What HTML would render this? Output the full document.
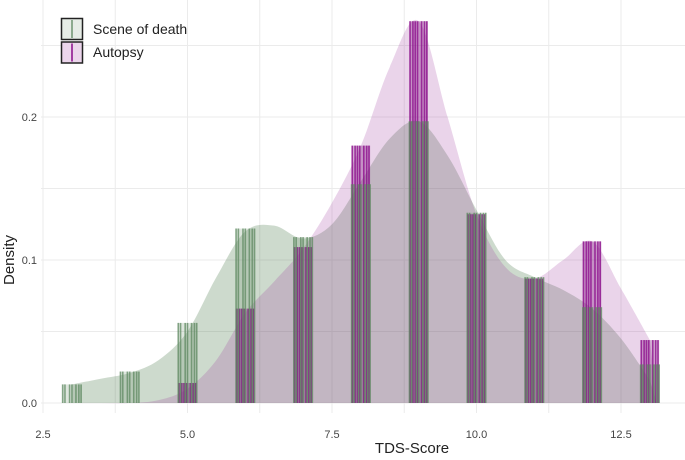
<!DOCTYPE html>
<html><head><meta charset="utf-8"><style>
body{margin:0;background:#fff}
text{font-family:"Liberation Sans",sans-serif}
</style></head><body>
<svg id="c" width="685" height="455" xmlns="http://www.w3.org/2000/svg">
<g id="grid"></g>
<g id="areas"></g>
<g id="bars"></g>
<g id="axes"></g>
<text x="412" y="453" font-size="15" text-anchor="middle" fill="#222">TDS-Score</text>
<text x="14" y="260" font-size="15" text-anchor="middle" fill="#222" transform="rotate(-90 14 260)">Density</text>
<g>
 <g>
  <rect x="61.5" y="18.5" width="21" height="21" fill="#e6ece6" stroke="#222" stroke-width="1.5"/>
  <line x1="72" y1="20" x2="72" y2="38" stroke="#6e9470" stroke-width="1.5"/>
  <text x="93" y="34" font-size="14" fill="#222">Scene of death</text>
 </g>
 <g>
  <rect x="61.5" y="42" width="21" height="21" fill="#ebd5eb" stroke="#222" stroke-width="1.5"/>
  <line x1="72" y1="43.5" x2="72" y2="61.5" stroke="#8a0a8a" stroke-width="1.5"/>
  <text x="93" y="57" font-size="14" fill="#222">Autopsy</text>
 </g>
</g>
</svg>
<script>
const densX = [3,3.5,4,4.5,5,5.5,6,6.5,7,7.5,8,8.5,9,9.5,10,10.5,11,11.5,12,12.5,13];
const sceneDens = [0.013,0.017,0.021,0.03,0.05,0.088,0.12,0.124,0.115,0.125,0.155,0.185,0.197,0.173,0.135,0.1,0.088,0.079,0.066,0.045,0.016];
const autopsyDens = [0,0,0,0.002,0.01,0.03,0.063,0.085,0.108,0.14,0.18,0.235,0.267,0.2,0.132,0.095,0.087,0.1,0.113,0.08,0.044];
const scores = [3,4,5,6,7,8,9,10,11,12,13];
const sceneBars = [0.013,0.022,0.056,0.122,0.116,0.153,0.197,0.133,0.088,0.067,0.027];
const autopsyBars = [0,0,0.014,0.066,0.109,0.18,0.267,0.132,0.087,0.113,0.044];
const xTicks = [2.5,5.0,7.5,10.0,12.5];
const yTicks = [0,0.1,0.2];
const NS="http://www.w3.org/2000/svg";
const X=v=>43+(v-2.5)*57.8;
const Y=v=>403-v*1430;
function mk(t,a,p){const e=document.createElementNS(NS,t);for(const k in a)e.setAttribute(k,a[k]);document.getElementById(p).appendChild(e);return e;}
for(let v=2.5;v<=13.76;v+=1.25){const l=mk('line',{x1:X(v),x2:X(v),y1:0,y2:413,stroke:'#ebebeb','stroke-width':1},'grid');

}
for(let v=0;v<=0.281;v+=0.05){const l=mk('line',{x1:41,x2:685,y1:Y(v),y2:Y(v),stroke:'#ebebeb','stroke-width':1},'grid');

}
xTicks.forEach(v=>{const t=mk('text',{x:X(v),y:438,'font-size':11,'text-anchor':'middle',fill:'#444'},'axes');t.textContent=v.toFixed(1);

});
yTicks.forEach(v=>{const t=mk('text',{x:37,y:Y(v)+4,'font-size':11,'text-anchor':'end',fill:'#444'},'axes');t.textContent=v.toFixed(1);

});
function path(xs,ys,startX,endX){
  const pts=xs.map((x,i)=>[X(x),Y(ys[i])]);
  let d=`M${X(startX)},${Y(0)} L${pts[0][0]},${pts[0][1]}`;
  for(let i=0;i<pts.length-1;i++){const p0=pts[i-1]||pts[i],p1=pts[i],p2=pts[i+1],p3=pts[i+2]||p2;
    d+=` C${p1[0]+(p2[0]-p0[0])/6},${p1[1]+(p2[1]-p0[1])/6} ${p2[0]-(p3[0]-p1[0])/6},${p2[1]-(p3[1]-p1[1])/6} ${p2[0]},${p2[1]}`;}
  d+=` L${X(endX)},${Y(0)} Z`;return d;}
const a1=mk('path',{d:path(densX,sceneDens,3,13.12),fill:'rgba(70,120,70,0.27)'},'areas');


const a2=mk('path',{d:path(densX,autopsyDens,4.2,13.12),fill:'rgba(150,40,150,0.2)'},'areas');


const offsA=[-0.15,-0.1,-0.06,-0.02,0.05,0.1,0.14];
const offsS=[-0.16,-0.12,-0.04,0.0,0.07,0.12,0.16];
function bars(vals,col,bg,name,offs){
  scores.forEach((s,i)=>{const v=vals[i];if(v<=0)return;
    const r=mk('rect',{x:X(s-0.16),y:Y(v),width:X(s+0.16)-X(s-0.16),height:Y(0)-Y(v),fill:bg},'bars');
    
    
    offs.forEach(o=>{mk('line',{x1:X(s+o),x2:X(s+o),y1:Y(v),y2:Y(0),stroke:col,'stroke-width':1.6,'stroke-opacity':0.75},'bars');});
  });}
bars(autopsyBars,'#8a0a8a','rgba(130,20,130,0.35)','autopsy-bar',offsA);
bars(sceneBars,'#5f8a62','rgba(90,130,92,0.2)','scene-bar',offsS);
</script>
</body></html>
